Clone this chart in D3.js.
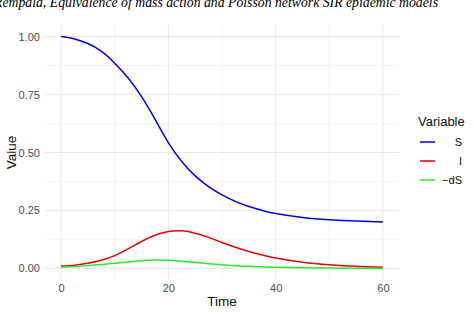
<!DOCTYPE html>
<html>
<head>
<meta charset="utf-8">
<script src="https://cdn.jsdelivr.net/npm/d3@7"></script>
<style>
html,body{margin:0;padding:0;background:#fff;}
svg{display:block;}
</style>
</head>
<body>
<svg id="chart" width="474" height="315"></svg>
<script>
// ---- data ----
const time = [0, 2.5, 5, 7.5, 10, 12.5, 15, 17.5, 20, 22.5, 25, 27.5, 30, 32.5, 35, 37.5, 40, 45, 50, 55, 60];
const S   = [1.000, 0.990, 0.970, 0.937, 0.885, 0.821, 0.741, 0.644, 0.543, 0.461, 0.399, 0.353, 0.317, 0.289, 0.267, 0.250, 0.237, 0.220, 0.210, 0.204, 0.200];
const I   = [0.010, 0.014, 0.022, 0.035, 0.055, 0.084, 0.116, 0.143, 0.159, 0.162, 0.152, 0.134, 0.112, 0.091, 0.073, 0.058, 0.045, 0.027, 0.016, 0.009, 0.005];
const mdS = [0.005, 0.008, 0.012, 0.017, 0.022, 0.028, 0.033, 0.036, 0.035, 0.031, 0.025, 0.020, 0.016, 0.012, 0.009, 0.007, 0.005, 0.003, 0.002, 0.001, 0.001];
const seriesNames = ["S", "I", "\u2212dS"];
const seriesColors = ["#0000ee", "#ee0000", "#22ee22"];
const xTicks = [0, 20, 40, 60];
const xMinor = [10, 30, 50];
const yTicks = [0, 0.25, 0.5, 0.75, 1.0];
const yMinor = [0.125, 0.375, 0.625, 0.875];
const titleText = "Rempala, Equivalence of mass action and Poisson network SIR epidemic models";

const svg = d3.select("#chart");
const panel = {left: 45, right: 399, top: 25, bottom: 280};

const x = d3.scaleLinear().domain([-3, 63]).range([panel.left, panel.right]);
const y = d3.scaleLinear().domain([-0.05, 1.05]).range([panel.bottom, panel.top]);

// title (cut at the top in the reference)
svg.append("text")
  .attr("x", -6).attr("y", 7)
  .attr("font-family", "Liberation Serif, Times New Roman, serif")
  .attr("font-style", "italic")
  .attr("font-size", 14)
  .attr("textLength", 444)
  .attr("lengthAdjust", "spacingAndGlyphs")
  .attr("fill", "#000")
  .text(titleText);

// grid
const g = svg.append("g");
g.selectAll(".ymin").data(yMinor).enter().append("line")
  .attr("x1", panel.left).attr("x2", panel.right)
  .attr("y1", d => y(d)).attr("y2", d => y(d))
  .attr("stroke", "#f3f3f3").attr("stroke-width", 0.8);
g.selectAll(".xmin").data(xMinor).enter().append("line")
  .attr("y1", panel.top).attr("y2", panel.bottom)
  .attr("x1", d => x(d)).attr("x2", d => x(d))
  .attr("stroke", "#f3f3f3").attr("stroke-width", 0.8);
g.selectAll(".ymaj").data(yTicks).enter().append("line")
  .attr("x1", panel.left).attr("x2", panel.right)
  .attr("y1", d => y(d)).attr("y2", d => y(d))
  .attr("stroke", "#ebebeb").attr("stroke-width", 1.1);
g.selectAll(".xmaj").data(xTicks).enter().append("line")
  .attr("y1", panel.top).attr("y2", panel.bottom)
  .attr("x1", d => x(d)).attr("x2", d => x(d))
  .attr("stroke", "#ebebeb").attr("stroke-width", 1.1);

// axes (labels only, ggplot minimal style)
const yAxis = d3.axisLeft(y).tickValues(yTicks).tickFormat(d3.format(".2f")).tickSize(0).tickPadding(5);
const ya = svg.append("g").attr("transform", `translate(${panel.left},0)`).call(yAxis);
ya.select(".domain").remove();
ya.selectAll("text").attr("font-family", "Liberation Sans, Arial, sans-serif").attr("font-size", 11).attr("fill", "#4d4d4d");

const xAxis = d3.axisBottom(x).tickValues(xTicks).tickFormat(d3.format("d")).tickSize(0).tickPadding(4);
const xa = svg.append("g").attr("transform", `translate(0,${panel.bottom})`).call(xAxis);
xa.select(".domain").remove();
xa.selectAll("text").attr("font-family", "Liberation Sans, Arial, sans-serif").attr("font-size", 11).attr("fill", "#4d4d4d");

// axis titles
svg.append("text")
  .attr("x", (panel.left + panel.right) / 2).attr("y", 306)
  .attr("text-anchor", "middle")
  .attr("font-family", "Liberation Sans, Arial, sans-serif").attr("font-size", 13.5).attr("fill", "#111")
  .text("Time");
svg.append("text")
  .attr("transform", `translate(16,${(panel.top + panel.bottom) / 2}) rotate(-90)`)
  .attr("text-anchor", "middle")
  .attr("font-family", "Liberation Sans, Arial, sans-serif").attr("font-size", 13.5).attr("fill", "#111")
  .text("Value");

// lines
const seriesData = [S, I, mdS];
const line = d3.line().x(d => x(d[0])).y(d => y(d[1])).curve(d3.curveNatural);
seriesData.forEach((vals, k) => {
  svg.append("path")
    .datum(time.map((t, i) => [t, vals[i]]))
    .attr("fill", "none")
    .attr("stroke", seriesColors[k])
    .attr("stroke-width", 1.5)
    .attr("d", line);
});

// legend
const lg = svg.append("g");
lg.append("text").attr("x", 418).attr("y", 126)
  .attr("font-family", "Liberation Sans, Arial, sans-serif").attr("font-size", 13).attr("fill", "#111")
  .text("Variable");
const legY = d3.scalePoint().domain(seriesNames).range([142, 180]);
seriesNames.forEach((name, k) => {
  lg.append("line")
    .attr("x1", 420).attr("x2", 435)
    .attr("y1", legY(name)).attr("y2", legY(name))
    .attr("stroke", seriesColors[k]).attr("stroke-width", 1.5);
  lg.append("text")
    .attr("x", 462).attr("y", legY(name)).attr("dy", "0.35em")
    .attr("text-anchor", "end")
    .attr("font-family", "Liberation Sans, Arial, sans-serif").attr("font-size", 11).attr("fill", "#111")
    .text(name);
});
</script>
</body>
</html>
